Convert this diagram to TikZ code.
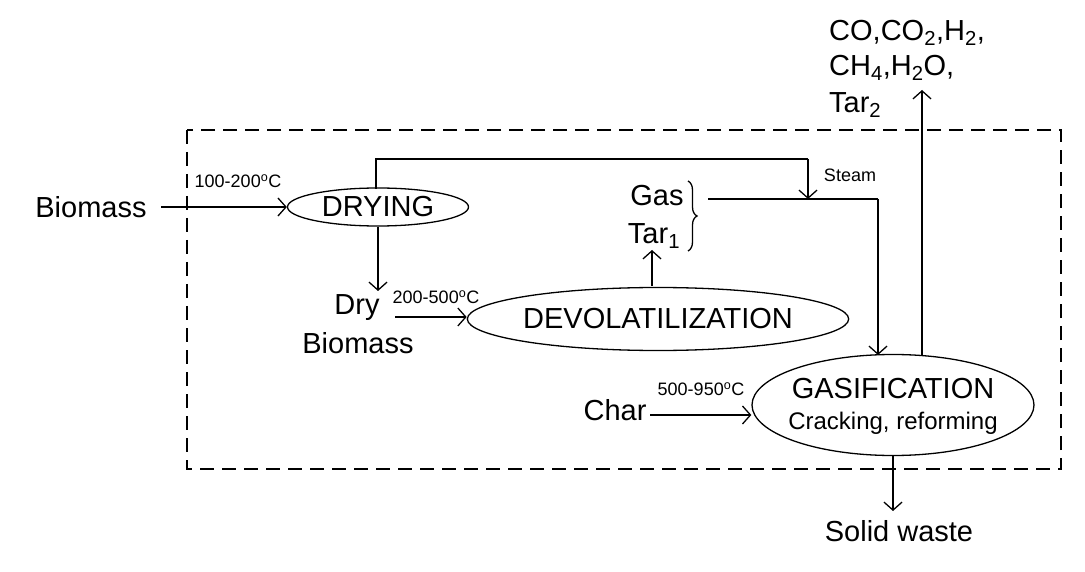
\documentclass[tikz,border=0pt]{standalone}
\usepackage{fontspec}
\setmainfont{Liberation Sans}
\usetikzlibrary{decorations.pathreplacing,arrows.meta,shapes.geometric}
\begin{document}
\begin{tikzpicture}[x=1pt,y=-1pt,
 arr/.style={draw,line width=1.3pt,-{Straight Barb[length=8pt,width=18pt]}},
 ln/.style={draw,line width=1.3pt},
 big/.style={font=\fontsize{29}{32}\selectfont,inner sep=0pt},
 small/.style={font=\fontsize{18}{20}\selectfont,inner sep=0pt},
 ell/.style={draw,ellipse,line width=1.3pt,inner sep=0pt}]
\useasboundingbox (0,0) rectangle (1085,572);
\draw[line width=1.5pt,dash pattern=on 14pt off 8pt] (187,130) rectangle (1061,469);
\node[big] (bio) at (91,207) {Biomass};
\node[ell,minimum width=181pt,minimum height=38pt,big] (dry) at (378,207) {DRYING};
\node[small] at (238,181) {100-200$^{\mathrm{o}}$C};
\draw[arr] (161,207) -- (dry.west);
\node[big] (dryt) at (357,308) {Dry};
\node[big] (drb) at (358,343) {Biomass};
\node[ell,minimum width=331pt,minimum height=63pt,big] (dev) at (658,319) {DEVOLATILIZATION};
\node[small] at (436,297) {200-500$^{\mathrm{o}}$C};
\draw[arr] (dry.south) -- (378,291);
\draw[arr] (395,317) -- (dev.west |- 0,317);
\node[big] (gas) at (657,196) {Gas};
\node[big] (tar) at (654,236) {Tar\textsubscript{1}};
\draw[line width=1.3pt,decorate,decoration={brace,amplitude=9pt}] (688,181) -- (688,251);
\node[ell,minimum width=282pt,minimum height=101pt,inner sep=0pt] (gsf) at (893,405) {};
\node[big] (g1) at (893,389) {GASIFICATION};
\node[font=\fontsize{24}{26}\selectfont,inner sep=0pt] (g2) at (893,423) {Cracking, reforming};
\draw[arr] (652,286) -- (652,250);
\draw[ln] (376,189) -- (376,159) -- (808,159);
\draw[arr] (808,159) -- (808,199);
\node[small] at (850,175) {Steam};
\draw[ln] (708,199) -- (878,199);
\draw[arr] (878,199) -- (878,355);
\node[big] (char) at (615,410) {Char};
\draw[arr] (650,415) -- (gsf.west |- 0,415);
\node[small] at (701,389) {500-950$^{\mathrm{o}}$C};
\draw[arr] (922,355) -- (922,90);
\node[big,anchor=west] at (829,33) {CO,CO\textsubscript{2},H\textsubscript{2},};
\node[big,anchor=west] at (829,68) {CH\textsubscript{4},H\textsubscript{2}O,};
\node[big,anchor=west] at (829,105) {Tar\textsubscript{2}};
\draw[arr] (893,456) -- (893,511);
\node[big] (sw) at (899,531) {Solid waste};
\end{tikzpicture}
\end{document}
